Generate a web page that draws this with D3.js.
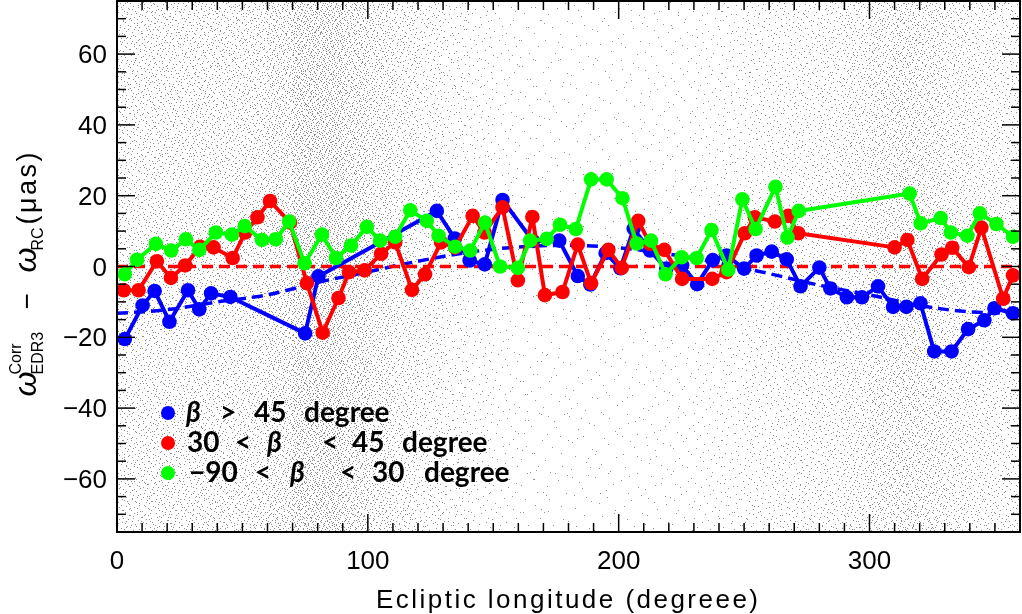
<!DOCTYPE html>
<html>
<head>
<meta charset="utf-8">
<script src="https://cdn.jsdelivr.net/npm/d3@7"></script>
<style>
body { margin: 0; background: #fff; }
#content { position: relative; width: 1022px; height: 614px; }
#content canvas, #content svg { position: absolute; left: 0; top: 0; }
text { white-space: pre; }
</style>
</head>
<body>
<div id="content"></div>
<script>
let width = 1022;
let height = 614;
let margin = ({top: 1, right: 2, bottom: 82, left: 117});

// beta > 45 degree
let blueLon = [3.1, 10.2, 15, 20.9, 28.3, 32.8, 37.5, 45.2, 75, 80.3, 127.5, 134.7, 140.6, 146.6, 153.7,
    165.8, 176.3, 183.7, 188.7, 194.8, 200.7, 206, 212.5, 219, 225.3, 231.3, 237.5, 243, 250, 255, 261,
    267, 272.5, 280, 284.4, 291, 297, 303.4, 309.4, 314.7, 320.3, 325.8, 332.7, 339.3, 345.8, 349.8, 357.2];
let blueVal = [-20.5, -11, -6.9, -15.6, -6.7, -12.1, -7.6, -8.6, -18.9, -2.8, 15.7, 7.9, 1.7, 0.6, 18.8,
    7.2, 7.3, -2.7, -5.1, 3.8, -0.5, 10.7, 4.5, -0.6, 0.3, -5, 1.8, 3.1, -0.6, 3.1, 4.2,
    2, -5.6, -0.3, -6.2, -8.7, -8.7, -5.6, -11.4, -11.4, -10.4, -24, -24, -17.7, -15.2, -11.8, -13.2];

// 30 < beta < 45 degree
let redLon = [2.7, 8.6, 15.9, 21.5, 27.2, 33.2, 38.5, 46.1, 51.1, 56, 61, 69, 75.7, 82, 88.3, 92.5, 98.7,
    105.3, 110.9, 117.6, 122.8, 129.2, 134.8, 141.8, 146.5, 153.7, 159.8, 165.6, 170.6, 177.6, 183.7, 189,
    195.9, 201.2, 207.8, 212.5, 218.2, 225.3, 237.3, 243, 250.3, 254.3, 262.3, 267.6, 271.6, 310, 315.1,
    321, 328.7, 333, 339.6, 344.6, 353.3, 357.2];
let redVal = [-6.7, -6.7, 1.5, -3.2, 0.3, 5.6, 5.4, 2.4, 9.6, 13.9, 18.5, 12.4, -4.7, -18.7, -8.9, -1.6, -1.1,
    3.6, 6.8, -6.6, -2.2, 6.8, 5.4, 14.3, 9.6, 16.7, -3.9, 14, -8.1, -7.2, 6.2, -4.7,
    4.7, -0.4, 12.9, 6.4, 4.7, -3.5, -3.5, -1.6, 9.4, 13.9, 12.7, 14.3, 9.4, 5.4, 7.5,
    -3.5, 3.4, 5.3, -0.2, 11, -9.1, -2.5];

// -90 < beta < 30 degree
let greenLon = [3.1, 8, 15.5, 21.6, 27.5, 32.8, 39.4, 45.8, 50.9, 57.8, 63.3, 68.6, 74.8, 81.7, 87.3, 93.3,
    99.6, 104.9, 110.9, 116.9, 123.5, 128.2, 134.8, 140.8, 146.7, 152.7, 159.8, 164.7, 171.3, 176.6, 182.9,
    189, 195.2, 201.5, 207.2, 212.9, 218.7, 225.1, 231.1, 237, 243.7, 249.3, 254.6, 262.5, 267.3, 271.8,
    316, 320.4, 328.4, 332.4, 339, 344, 350.6, 357.2];
let greenVal = [-2.2, 1.9, 6.4, 4.5, 7.7, 4.7, 9.6, 9, 11.4, 7.5, 7.7, 12.7, 0.9, 9, 2.4, 5.9,
    11.2, 7.3, 8.4, 15.9, 12.9, 8.7, 5.6, 4.5, 12.4, 0, -0.4, 7.3, 7.8, 11.8, 10.6,
    24.6, 24.6, 19.3, 6.5, 7.3, -2.2, 2.6, 2.4, 10.3, -0.9, 19, 10.6, 22.5, 8.2, 15.7,
    20.6, 12.2, 13.7, 9.6, 8.7, 15, 12, 8.4];

// dashed trend for beta > 45, read every 20 degree
let trendLon = [0, 20, 40, 60, 80, 100, 120, 140, 160, 180, 200, 220, 240, 260, 280, 300, 320, 340, 360];
let trendVal = [-13.2, -12.2, -10, -8, -4.5, -1.5, 1.5, 4, 5.5, 6, 5.3, 3.5, 1, -2, -5.3, -8, -11, -12.8, -13.2];

// relative density of the grey background stars per 10 degree bin
let starBins = d3.range(0, 360, 10);
let starDensity = [0.42, 0.45, 0.45, 0.5, 0.5, 0.55, 0.7, 1.0, 1.0, 0.8, 0.6, 0.45, 0.32, 0.22, 0.14, 0.08,
    0.06, 0.05, 0.05, 0.05, 0.05, 0.06, 0.07, 0.1, 0.15, 0.22, 0.26, 0.3, 0.36, 0.45, 0.58, 0.66, 0.58, 0.46, 0.38, 0.34];

let xMajor = [0, 100, 200, 300];
let xMinor = d3.range(0, 361, 10);
let yMajor = [-60, -40, -20, 0, 20, 40, 60];
let yMinor = d3.range(-75, 76, 5);

// legend words and where each starts
let legendItems = [
    {color: "#0000ff", words: [["β", 186, true], [">", 220, false], ["45", 254, false], ["degree", 304, false]]},
    {color: "#ff0000", words: [["30", 187, false], ["<", 235, false], ["β", 267, true], ["<", 322, false], ["45", 352, false], ["degree", 402, false]]},
    {color: "#00ff00", words: [["−90", 189, false], ["<", 255, false], ["β", 290, true], ["<", 340, false], ["30", 372, false], ["degree", 424, false]]}
];

let xScale = d3.scaleLinear().domain([0, 360]).range([margin.left, width - margin.right]);
let yScale = d3.scaleLinear().domain([-75, 75]).range([height - margin.bottom, margin.top]);

let x0 = margin.left, x1 = width - margin.right;
let y0 = height - margin.bottom, y1 = margin.top;

// Background stars on a canvas, spread with a Halton sequence
function halton(i, b) {
    let f = 1, r = 0;
    while (i > 0) { f /= b; r += f * (i % b); i = Math.floor(i / b); }
    return r;
}
let canvas = d3.select("#content").append("canvas")
    .attr("width", width).attr("height", height);
let ctx = canvas.node().getContext("2d");
ctx.fillStyle = "#909090";
starBins.forEach(function(b, k) {
    let n = Math.round(starDensity[k] * 2300);
    let bx0 = xScale(b), bx1 = xScale(b + 10);
    for (let i = 1; i <= n; i++) {
        let j = i + k * 3001;
        let px = Math.floor(bx0 + halton(j, 2) * (bx1 - bx0));
        let py = Math.floor(y1 + halton(j, 3) * (y0 - y1));
        ctx.fillRect(px, py, 1, 1);
    }
});

let svg = d3.select("#content")
    .append("svg")
    .attr("width", width)
    .attr("height", height);

// Dashed lines
let smooth = d3.line().x(d => xScale(d[0])).y(d => yScale(d[1])).curve(d3.curveMonotoneX);

svg.append("path")
    .datum(d3.zip(trendLon, trendVal))
    .attr("d", smooth)
    .attr("fill", "none")
    .attr("stroke", "#0000ff")
    .attr("stroke-width", 3.5)
    .attr("stroke-dasharray", "11,6");

svg.append("line")
    .attr("x1", xScale(0)).attr("x2", xScale(360))
    .attr("y1", yScale(0)).attr("y2", yScale(0))
    .attr("stroke", "#ff0000")
    .attr("stroke-width", 3.5)
    .attr("stroke-dasharray", "11,6");

let series = [
    {lon: blueLon, val: blueVal, color: "#0000ff"},
    {lon: redLon, val: redVal, color: "#ff0000"},
    {lon: greenLon, val: greenVal, color: "#00ff00"}
];

let straight = d3.line().x(d => xScale(d[0])).y(d => yScale(d[1]));

series.forEach(function(s) {
    let pts = d3.zip(s.lon, s.val);
    let g = svg.append("g");
    g.append("path")
        .datum(pts)
        .attr("d", straight)
        .attr("fill", "none")
        .attr("stroke", s.color)
        .attr("stroke-width", 4)
        .attr("stroke-linejoin", "round");
    g.selectAll("circle")
        .data(pts)
        .enter()
        .append("circle")
        .attr("cx", d => xScale(d[0]))
        .attr("cy", d => yScale(d[1]))
        .attr("r", 7.3)
        .attr("fill", s.color);
});

// Frame and ticks on all four sides
let axes = svg.append("g").attr("stroke", "#000").attr("stroke-width", 1.5);
xMinor.forEach(function(v) {
    let len = xMajor.indexOf(v) >= 0 ? 18 : 9;
    axes.append("line").attr("x1", xScale(v)).attr("x2", xScale(v)).attr("y1", y0).attr("y2", y0 - len);
    axes.append("line").attr("x1", xScale(v)).attr("x2", xScale(v)).attr("y1", y1).attr("y2", y1 + len);
});
yMinor.forEach(function(v) {
    let len = yMajor.indexOf(v) >= 0 ? 18 : 9;
    axes.append("line").attr("y1", yScale(v)).attr("y2", yScale(v)).attr("x1", x0).attr("x2", x0 + len);
    axes.append("line").attr("y1", yScale(v)).attr("y2", yScale(v)).attr("x1", x1).attr("x2", x1 - len);
});
svg.append("rect")
    .attr("x", x0).attr("y", y1)
    .attr("width", x1 - x0).attr("height", y0 - y1)
    .attr("fill", "none").attr("stroke", "#000").attr("stroke-width", 2);

// Tick labels
svg.selectAll(".ylab")
    .data(yMajor)
    .enter()
    .append("text")
    .attr("class", "ylab")
    .attr("x", 107)
    .attr("y", d => yScale(d) + 9)
    .attr("text-anchor", "end")
    .attr("font-family", "Liberation Sans, Arial, sans-serif")
    .attr("font-size", 26)
    .text(d => d < 0 ? "\u2212" + Math.abs(d) : d);

svg.selectAll(".xlab")
    .data(xMajor)
    .enter()
    .append("text")
    .attr("class", "xlab")
    .attr("x", d => xScale(d))
    .attr("y", 569)
    .attr("text-anchor", "middle")
    .attr("font-family", "Liberation Sans, Arial, sans-serif")
    .attr("font-size", 26)
    .text(d => d);

svg.append("text")
    .attr("x", 567)
    .attr("y", 608)
    .attr("text-anchor", "middle")
    .attr("font-family", "Liberation Sans, Arial, sans-serif")
    .attr("font-size", 26)
    .attr("textLength", 382)
    .text("Ecliptic longitude (degreee)");

// Y axis title, rotated
let yt = svg.append("g")
    .attr("transform", "translate(36," + (yScale(0) + 8) + ") rotate(-90)")
    .attr("font-family", "Liberation Sans, Arial, sans-serif");
yt.append("text").attr("x", -122).attr("y", 0).attr("font-size", 32).attr("font-style", "italic").text("ω");
yt.append("text").attr("x", -100).attr("y", -15).attr("font-size", 16).text("Corr");
yt.append("text").attr("x", -100).attr("y", 7).attr("font-size", 16).text("EDR3");
yt.append("text").attr("x", -35).attr("y", 0).attr("font-size", 28).text("−");
yt.append("text").attr("x", 2).attr("y", 0).attr("font-size", 32).attr("font-style", "italic").text("ω");
yt.append("text").attr("x", 24).attr("y", 7).attr("font-size", 16).text("RC");
yt.append("text").attr("x", 50).attr("y", 0).attr("font-size", 27).attr("textLength", 72).text("(μas)");

// Legend
let legend = svg.append("g")
    .attr("font-family", "Lato, DejaVu Sans, sans-serif")
    .attr("font-weight", "bold")
    .attr("font-size", 28);
legendItems.forEach(function(item, i) {
    let cy = 413 + i * 30;
    legend.append("circle").attr("cx", 168).attr("cy", cy).attr("r", 7).attr("fill", item.color);
    item.words.forEach(function(w) {
        legend.append("text")
            .attr("x", w[1]).attr("y", cy + 9)
            .attr("font-style", w[2] ? "italic" : "normal")
            .text(w[0]);
    });
});
</script>
</body>
</html>
